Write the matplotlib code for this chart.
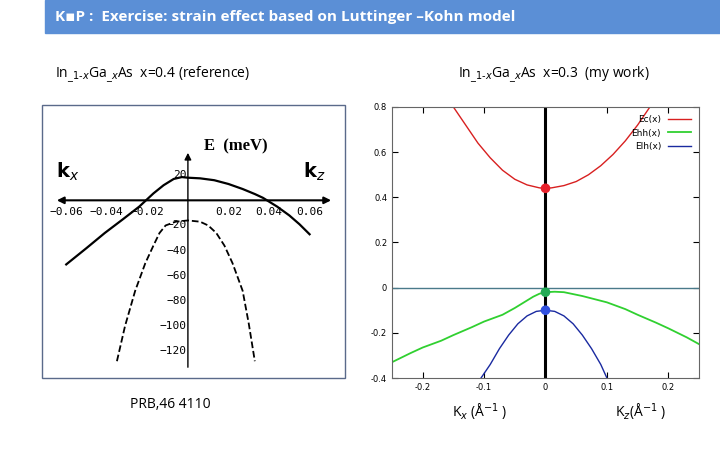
import matplotlib
matplotlib.use("Agg")
import matplotlib.pyplot as plt
import numpy as np
from matplotlib.patches import Rectangle

# Reference (left) panel data, meV vs k
ref_hh_k = [-0.06, -0.05, -0.041, -0.032, -0.024, -0.017, -0.012, -0.007, -0.003, 0.0, 0.006, 0.013, 0.02, 0.027, 0.033, 0.037, 0.044, 0.05, 0.055, 0.06]
ref_hh_E = [-51, -38, -26, -15, -5, 5.5, 12, 17, 18.5, 18, 17.5, 16, 13, 9, 5, 2, -5, -12, -19, -27]
ref_lh_k = [-0.035, -0.031, -0.026, -0.021, -0.017, -0.014, -0.011, -0.006, 0.0, 0.006, 0.01, 0.014, 0.018, 0.022, 0.027, 0.03, 0.033]
ref_lh_E = [-128, -100, -72, -50, -36, -26, -20, -17, -16, -17, -20, -26, -36, -50, -72, -98, -128]
ref_xticks = [-0.06, -0.04, -0.02, 0.02, 0.04, 0.06]
ref_yticks = [20, -20, -40, -60, -80, -100, -120]

# My work (right) panel data, eV vs k
ec_k = [-0.15, -0.13, -0.11, -0.09, -0.07, -0.05, -0.03, -0.01, 0.0, 0.01, 0.03, 0.05, 0.07, 0.09, 0.11, 0.13, 0.15, 0.17]
ec_E = [0.80, 0.72, 0.64, 0.575, 0.52, 0.48, 0.455, 0.442, 0.44, 0.442, 0.452, 0.47, 0.50, 0.54, 0.59, 0.65, 0.72, 0.80]
hh_k = [-0.25, -0.22, -0.2, -0.17, -0.15, -0.12, -0.1, -0.07, -0.05, -0.035, -0.02, -0.01, 0.0, 0.015, 0.03, 0.06, 0.1, 0.13, 0.15, 0.18, 0.2, 0.23, 0.25]
hh_E = [-0.33, -0.29, -0.265, -0.235, -0.21, -0.175, -0.15, -0.12, -0.09, -0.065, -0.04, -0.027, -0.02, -0.018, -0.02, -0.037, -0.065, -0.095, -0.12, -0.155, -0.18, -0.22, -0.25]
lh_k = [-0.105, -0.09, -0.075, -0.06, -0.045, -0.03, -0.015, 0.0, 0.015, 0.03, 0.045, 0.06, 0.075, 0.09, 0.1]
lh_E = [-0.40, -0.34, -0.27, -0.21, -0.16, -0.125, -0.105, -0.10, -0.105, -0.125, -0.16, -0.21, -0.27, -0.34, -0.40]
dots_E = [0.44, -0.02, -0.10]
dot_colors = ['#e8202a', '#22aa55', '#3050e0']

W, H = 720, 450
fig = plt.figure(figsize=(W/100, H/100), dpi=100)
fig.patch.set_facecolor('white')

def fx(px): return px / W
def fy(py): return 1 - py / H

fam = ['Open Sans', 'DejaVu Sans']
bg = fig.add_axes([0, 0, 1, 1]); bg.axis('off'); bg.set_xlim(0, W); bg.set_ylim(H, 0)
bg.add_patch(Rectangle((45, 0), W-45, 33, color='#5b8fd6'))
bg.text(55, 17, "K▪P :  Exercise: strain effect based on Luttinger –Kohn model",
        color='white', fontsize=11, fontweight='bold', va='center', family=fam)
bg.text(55, 75, r"In$_{\_1\text{-}x}$Ga$_{\_x}$As  x=0.4 (reference)", fontsize=10, va='center', family=fam)
bg.text(458, 75, r"In$_{\_1\text{-}x}$Ga$_{\_x}$As  x=0.3  (my work)", fontsize=10, va='center', family=fam)
bg.text(130, 405, "PRB,46 4110", fontsize=10, va='center', family=fam)
bg.text(452, 412, r"K$_x$ (Å$^{-1}$ )", fontsize=10, va='center', family=fam)
bg.text(615, 412, r"K$_z$(Å$^{-1}$ )", fontsize=10, va='center', family=fam)
bg.add_patch(Rectangle((42, 105), 303, 273, fill=False, ec='#5a6a8a', lw=1))

axl = fig.add_axes([fx(50), fy(370), fx(290), fy(140)-fy(370)])
axl.set_xlim(-0.068, 0.075); axl.set_ylim(-135, 48)
axl.axis('off')
axl.annotate('', xy=(0.072, 0), xytext=(-0.066, 0), arrowprops=dict(arrowstyle='<|-|>', color='black', lw=1.5))
axl.annotate('', xy=(0, 40), xytext=(0, -135), arrowprops=dict(arrowstyle='-|>', color='black', lw=1))
axl.plot(ref_hh_k, ref_hh_E, color='black', lw=1.6)
axl.plot(ref_lh_k, ref_lh_E, color='black', lw=1.3, ls='--')
for t in ref_xticks:
    axl.text(t, -5, f"{t:.2f}".replace('-', '−'), ha='center', va='top', fontsize=8, family='DejaVu Sans Mono')
for t in ref_yticks:
    axl.text(-0.0005, t, str(t).replace('-', '−'), ha='right', va='center', fontsize=8, family='DejaVu Sans Mono')
axl.text(0.008, 40, "E  (meV)", fontsize=12, fontweight='bold', family='Liberation Serif')
axl.text(-0.065, 18, r"$\mathbf{k}_{x}$", fontsize=14)
axl.text(0.057, 18, r"$\mathbf{k}_{z}$", fontsize=14)

axr = fig.add_axes([fx(392), fy(378), fx(699-392), fy(107)-fy(378)])
axr.set_xlim(-0.25, 0.25); axr.set_ylim(-0.4, 0.8)
axr.plot(ec_k, ec_E, color='#d82020', lw=1, label='Ec(x)')
axr.plot(hh_k, hh_E, color='#30d030', lw=1.3, label='Ehh(x)')
axr.plot(lh_k, lh_E, color='#1a2aa0', lw=1, label='Elh(x)')
axr.axhline(0, color='#4a7a8a', lw=1)
axr.axvline(0, color='black', lw=2.2)
axr.scatter([0, 0, 0], dots_E, c=dot_colors, s=35, zorder=5)
axr.set_xticks([-0.2, -0.1, 0, 0.1, 0.2]); axr.set_xticklabels(['-0.2', '-0.1', '0', '0.1', '0.2'])
axr.set_yticks([-0.4, -0.2, 0, 0.2, 0.4, 0.6, 0.8]); axr.set_yticklabels(['-0.4', '-0.2', '0', '0.2', '0.4', '0.6', '0.8'])
axr.tick_params(labelsize=6, direction='in', top=True, right=True, length=4)
for s in axr.spines.values(): s.set_color('#666666')
axr.legend(loc='upper right', fontsize=6.5, frameon=False, markerfirst=False, handlelength=2.5)

fig.savefig('out.png', dpi=100)
